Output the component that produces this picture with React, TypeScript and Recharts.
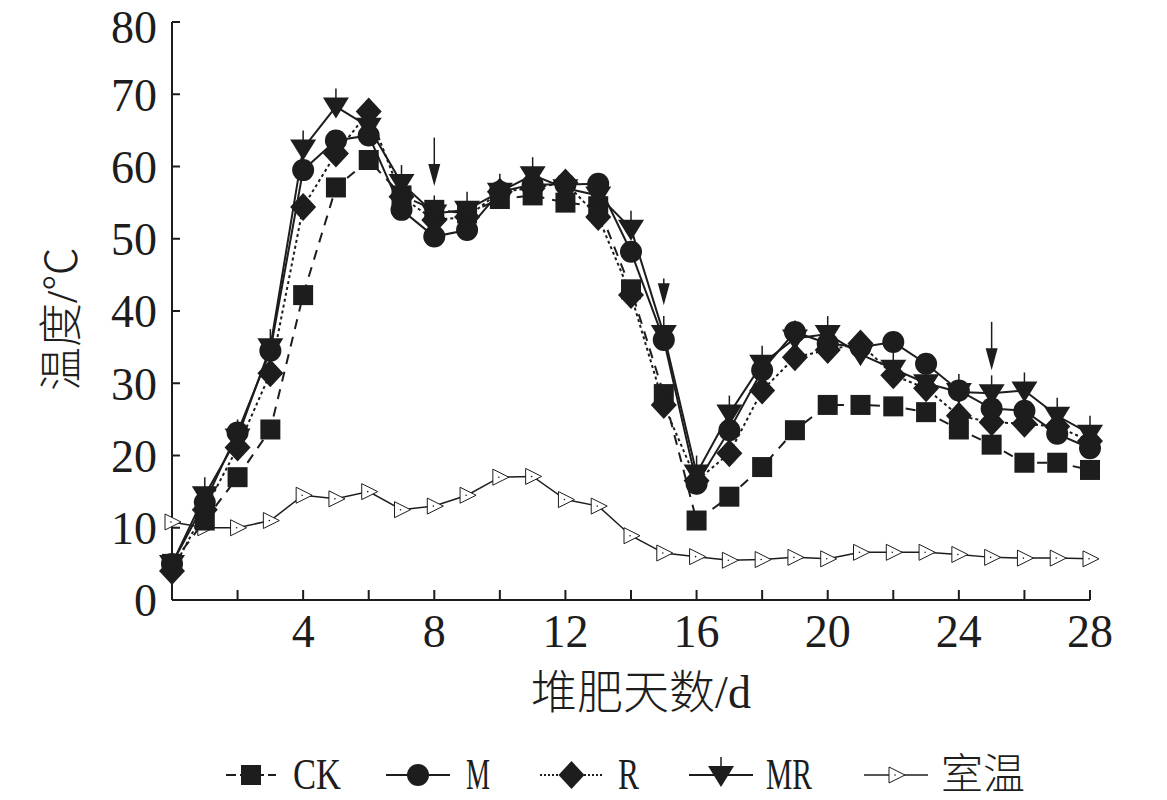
import React from "react";
import { LineChart, Line, XAxis, YAxis, ReferenceLine } from "recharts";

// composting temperature, day 0..28
const days = [0, 1, 2, 3, 4, 5, 6, 7, 8, 9, 10, 11, 12, 13, 14, 15, 16, 17, 18, 19, 20, 21, 22, 23, 24, 25, 26, 27, 28];
const ckTemp = [5, 11, 17, 23.6, 42.2, 57.1, 60.9, 56, 54, 53.5, 55.5, 56, 55, 54.5, 43, 28.5, 11, 14.3, 18.4, 23.5, 27, 27, 26.8, 26, 23.6, 21.5, 19, 19, 18];
const mTemp = [5, 13.5, 23.2, 34.5, 59.5, 63.6, 64.3, 54, 50.3, 51.2, 56.5, 57.5, 57.5, 57.6, 48.2, 36, 16.1, 23.5, 31.8, 37.1, 35.5, 35, 35.7, 32.7, 29, 26.5, 26.2, 23, 21];
const rTemp = [4, 12.5, 21.1, 31.4, 54.4, 61.8, 67.6, 55.8, 52.6, 53, 56.5, 57, 57.8, 53, 42.2, 27, 16.5, 20.3, 29, 33.6, 34.6, 35.5, 31.1, 29.3, 25.5, 24.6, 24.4, 24, 22];
const mrTemp = [5, 14.5, 22.5, 35, 62.5, 68.3, 65.5, 57.7, 53.5, 54, 56.5, 58.8, 57, 56, 51.4, 36.8, 17.5, 25.8, 32.7, 36.2, 36.8, 34, 32, 30, 28.8, 28.6, 29, 25.5, 23];
const roomTemp = [10.8, 10, 10, 11, 14.5, 14, 15, 12.5, 13, 14.5, 17, 17.1, 13.9, 13, 8.9, 6.5, 6, 5.5, 5.6, 5.9, 5.7, 6.6, 6.6, 6.6, 6.3, 5.9, 5.8, 5.8, 5.7];

const seriesNames = ["CK", "M", "R", "MR", "室温"];
const xTicks = [0, 2, 4, 6, 8, 10, 12, 14, 16, 18, 20, 22, 24, 26, 28];
const yTicks = [0, 10, 20, 30, 40, 50, 60, 70, 80];

// turning arrows
const arrowDays = [8, 15, 25];
const arrowTops = [64, 44.5, 38.5];
const arrowTips = [57.3, 40.8, 31.8];

const rows = days.map((d, i) => ({
  day: d,
  CK: ckTemp[i],
  M: mTemp[i],
  R: rTemp[i],
  MR: mrTemp[i],
  room: roomTemp[i],
}));

const INK = "#1d1d1d";
const SERIF = "'Liberation Serif', 'Times New Roman', serif";
const CJK = "'Liberation Serif', 'Noto Sans CJK SC', sans-serif";

const squareMark = (cx: number, cy: number) => <rect x={cx - 10} y={cy - 10} width={20} height={20} fill={INK} />;
const circleMark = (cx: number, cy: number) => <circle cx={cx} cy={cy} r={11} fill={INK} />;
const diamondMark = (cx: number, cy: number) => (
  <polygon points={`${cx},${cy - 14} ${cx + 13},${cy} ${cx},${cy + 14} ${cx - 13},${cy}`} fill={INK} />
);
const downTriMark = (cx: number, cy: number) => (
  <g>
    <line x1={cx} y1={cy - 18} x2={cx} y2={cy - 8} stroke={INK} strokeWidth={1.5} />
    <polygon points={`${cx - 13},${cy - 9} ${cx + 13},${cy - 9} ${cx},${cy + 12}`} fill={INK} />
  </g>
);
const rightTriMark = (cx: number, cy: number) => (
  <g>
    <polygon points={`${cx - 7},${cy - 8} ${cx + 9},${cy} ${cx - 7},${cy + 8}`} fill="#fff" stroke={INK} strokeWidth={1} />
    <circle cx={cx - 1} cy={cy} r={0.8} fill={INK} />
  </g>
);

const dotOf = (mark: (cx: number, cy: number) => React.ReactElement) => (p: any) => {
  if (p.cx == null || p.cy == null) return <g key={p.index} />;
  return <g key={p.index}>{mark(p.cx, p.cy)}</g>;
};

const ArrowShape = (p: any) => {
  const { x1, y1, x2, y2 } = p;
  if (x1 == null) return <g />;
  return (
    <g>
      <line x1={x1} y1={y1} x2={x2} y2={y2 - 18} stroke={INK} strokeWidth={1.5} />
      <polygon points={`${x2 - 6},${y2 - 22} ${x2 + 6},${y2 - 22} ${x2},${y2}`} fill={INK} />
    </g>
  );
};

const legendItems = [
  { name: seriesNames[0], mark: squareMark, dash: "10 4", lineX: 226, lineW: 50, textX: 293, textW: 48 },
  { name: seriesNames[1], mark: circleMark, dash: undefined, lineX: 386, lineW: 64, textX: 466, textW: 24 },
  { name: seriesNames[2], mark: diamondMark, dash: "2 2", lineX: 540, lineW: 63, textX: 618, textW: 21 },
  { name: seriesNames[3], mark: downTriMark, dash: undefined, lineX: 689, lineW: 64, textX: 766, textW: 46 },
  { name: seriesNames[4], mark: rightTriMark, dash: undefined, lineX: 864, lineW: 64, textX: 941, textW: 0 },
];

function ChartLegend() {
  const y = 775;
  const base = 789;
  return (
    <svg width={1167} height={800} style={{ position: "absolute", left: 0, top: 0, pointerEvents: "none" }}>
      {legendItems.map((it, i) => {
        const mid = it.lineX + it.lineW / 2;
        const cjk = /[^\x00-\x7f]/.test(it.name);
        return (
          <g key={i}>
            <line x1={it.lineX} y1={y} x2={it.lineX + it.lineW} y2={y} stroke={INK} strokeWidth={i === 4 ? 1.5 : 2} strokeDasharray={it.dash} />
            {it.mark(mid, y)}
            {cjk ? (
              <text x={it.textX} y={base} fontFamily={CJK} fontSize={42} fontWeight={300} fill={INK}>
                {it.name}
              </text>
            ) : (
              <text
                x={it.textX}
                y={base}
                textLength={it.textW}
                lengthAdjust="spacingAndGlyphs"
                fontFamily={SERIF}
                fontSize={44}
                fill={INK}
              >
                {it.name}
              </text>
            )}
          </g>
        );
      })}
    </svg>
  );
}

export default function App() {
  return (
    <div style={{ position: "absolute", left: 0, top: 0, width: 1167, height: 800, background: "#fff" }}>
      <LineChart width={1167} height={800} data={rows} margin={{ top: 22, right: 77, left: 0, bottom: 0 }}>
        <XAxis
          type="number"
          dataKey="day"
          domain={[0, 28]}
          ticks={xTicks}
          tickFormatter={(v: number) => (v > 0 && v % 4 === 0 ? String(v) : "")}
          height={200}
          stroke={INK}
          strokeWidth={2}
          tickSize={-10}
          tickMargin={24}
          tick={{ fill: INK, fontSize: 46, fontFamily: SERIF }}
          label={{
            content: (props: any) => {
              const vb = props.viewBox || {};
              return (
                <text x={vb.x + vb.width / 2 + 10} y={vb.y + 108} textAnchor="middle" fontFamily={CJK} fontSize={46} fontWeight={300} fill={INK}>
                  堆肥天数/d
                </text>
              );
            },
          }}
        />
        <YAxis
          type="number"
          domain={[0, 80]}
          ticks={yTicks}
          width={172}
          stroke={INK}
          strokeWidth={2}
          tickSize={-8}
          tickMargin={23}
          tick={{ fill: INK, fontSize: 46, fontFamily: SERIF }}
          label={{
            content: (props: any) => {
              const vb = props.viewBox || {};
              const cx = 62;
              const cy = vb.y + vb.height / 2 + 8;
              return (
                <text x={cx} y={cy} transform={`rotate(-90 ${cx} ${cy})`} textAnchor="middle" dominantBaseline="central" fontFamily={CJK} fontSize={44} fontWeight={300} fill={INK}>
                  温度/℃
                </text>
              );
            },
          }}
        />
        <Line dataKey="room" name={seriesNames[4]} stroke={INK} strokeWidth={1.5} dot={dotOf(rightTriMark)} isAnimationActive={false} />
        <Line dataKey="CK" name={seriesNames[0]} stroke={INK} strokeWidth={2} strokeDasharray="10 8" dot={dotOf(squareMark)} isAnimationActive={false} />
        <Line dataKey="R" name={seriesNames[2]} stroke={INK} strokeWidth={2} strokeDasharray="3 3" dot={dotOf(diamondMark)} isAnimationActive={false} />
        <Line dataKey="M" name={seriesNames[1]} stroke={INK} strokeWidth={2} dot={dotOf(circleMark)} isAnimationActive={false} />
        <Line dataKey="MR" name={seriesNames[3]} stroke={INK} strokeWidth={2} dot={dotOf(downTriMark)} isAnimationActive={false} />
        {arrowDays.map((d, i) => (
          <ReferenceLine
            key={`arrow-${i}`}
            segment={[
              { x: d, y: arrowTops[i] },
              { x: d, y: arrowTips[i] },
            ]}
            shape={ArrowShape}
          />
        ))}
      </LineChart>
      <ChartLegend />
    </div>
  );
}
